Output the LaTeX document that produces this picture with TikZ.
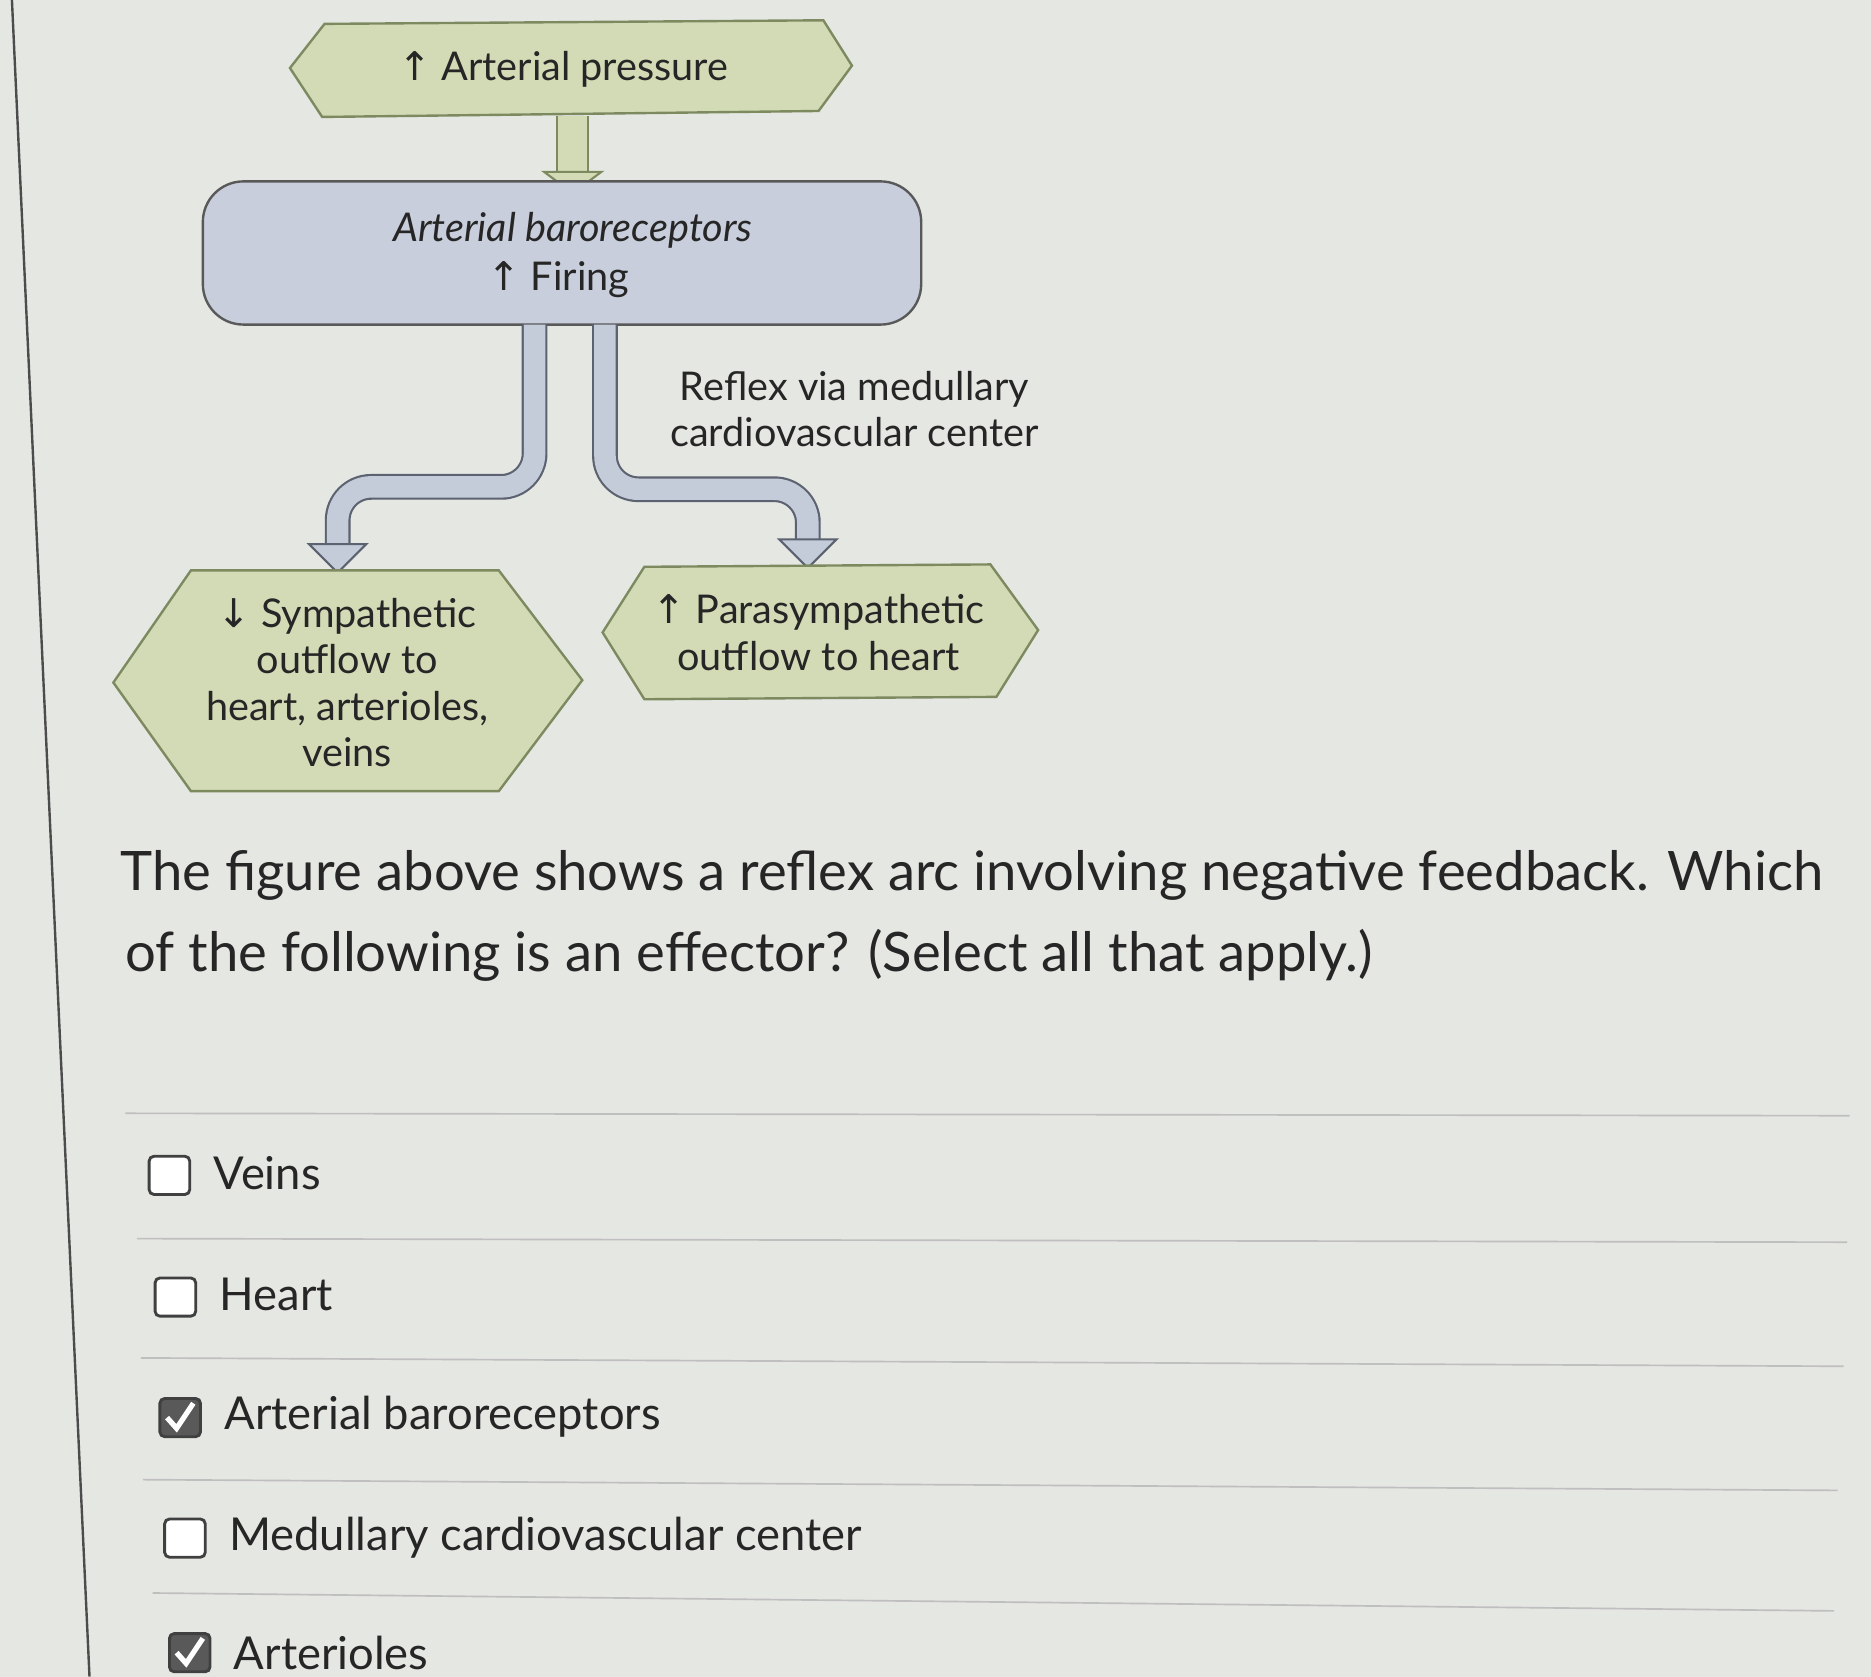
\documentclass[tikz,border=0pt]{standalone}
\usepackage{fontspec}
\setmainfont{Lato}
\newfontfamily\sym{DejaVu Sans}
\begin{document}
\begin{tikzpicture}[x=0.5pt,y=-0.5pt,
  hexg/.style={fill=hexfill,draw=hexline,line width=1pt},
  diag/.style={font=\fontsize{16.6}{19.5}\selectfont,text=black!85,align=center},
  opt/.style={font=\fontsize{19}{23}\selectfont,text=black!85,anchor=west},
  sep/.style={draw=black!25,line width=0.7pt},
  cbox/.style={draw=black!75,line width=1.2pt,rounded corners=2pt,fill=white},
  cboxon/.style={draw=black!75,line width=1.2pt,rounded corners=2pt,fill=black!65},
  pipe/.style={draw=pipeline,double=pipefill,double distance=9pt,line width=0.9pt,rounded corners=14pt},
  gpipe/.style={draw=hexline,double=hexfill,double distance=12pt,line width=0.9pt}]
\definecolor{bg}{HTML}{E5E7E3}
\definecolor{hexfill}{HTML}{D3DBB6}
\definecolor{hexline}{HTML}{7D8A60}
\definecolor{boxfill}{HTML}{C8CEDC}
\definecolor{pipefill}{HTML}{C5CCD9}
\definecolor{pipeline}{HTML}{5C6270}
\fill[bg] (0,0) rectangle (1568,1405);
\useasboundingbox (0,0) rectangle (1568,1405);
\draw[black!70,line width=1pt] (10,0) -- (75,1405);
% top arrow
\coordinate (ta1) at (480,97); \coordinate (ta2) at (480,144);
\draw[gpipe] (ta1) -- (ta2);
\filldraw[hexfill,draw=hexline,line width=0.9pt] (456,144) -- (504,144) -- (480,162) -- cycle;
% arterial pressure
\filldraw[hexg] (243,57) -- (272,20) -- (690,17) -- (714,55) -- (686,93) -- (270,98) -- cycle;
\node[diag] (ap) at (472,58) {{\sym ↑} Arterial pressure};
% baroreceptor box
\filldraw[fill=boxfill,draw=black!65,line width=1pt,rounded corners=17pt] (170,152) rectangle (772,272);
\node[diag] (ab) at (480,193) {\itshape Arterial baroreceptors};
\node[diag] (fi) at (468,234) {{\sym ↑} Firing};
% pipes
\coordinate (l0) at (448,272); \coordinate (l1) at (448,408); \coordinate (l2) at (283,408); \coordinate (l3) at (283,456);
\draw[pipe] (l0) -- (l1) -- (l2) -- (l3);
\filldraw[pipefill,draw=pipeline,line width=0.9pt] (259,456) -- (307,456) -- (283,480) -- cycle;
\coordinate (r0) at (507,272); \coordinate (r1) at (507,410); \coordinate (r2) at (677,410); \coordinate (r3) at (677,452);
\draw[pipe] (r0) -- (r1) -- (r2) -- (r3);
\filldraw[pipefill,draw=pipeline,line width=0.9pt] (653,452) -- (701,452) -- (677,476) -- cycle;
\fill[boxfill] (432,262) rectangle (523,271);
\node[diag] (rv) at (716,343) {Reflex via medullary\\cardiovascular center};
% hexagons
\filldraw[hexg] (95,572) -- (160,478) -- (418,478) -- (488,570) -- (418,663) -- (160,663) -- cycle;
\node[diag] (sy) at (291,572) {{\sym ↓} Sympathetic\\outflow to\\heart, arterioles,\\veins};
\filldraw[hexg] (505,530) -- (540,475) -- (830,473) -- (870,528) -- (835,584) -- (540,586) -- cycle;
\node[diag] (pa) at (686,530) {{\sym ↑} Parasympathetic\\outflow to heart};
% question
\node[anchor=west,font=\fontsize{22.8}{26}\selectfont,text=black!85] (q1) at (94,734) {The figure above shows a reflex arc involving negative feedback. Which};
\node[anchor=west,font=\fontsize{22.8}{26}\selectfont,text=black!85] (q2) at (98,801) {of the following is an effector? (Select all that apply.)};
% separators
\draw[sep] (105,933) -- (1550,935);
\draw[sep] (115,1038) -- (1548,1041);
\draw[sep] (118,1138) -- (1545,1145);
\draw[sep] (120,1240) -- (1540,1249);
\draw[sep] (128,1335) -- (1537,1350);
% options
\draw[cbox] (125,969) rectangle (159,1001);
\node[opt] (o1) at (172,983) {Veins};
\draw[cbox] (130,1071) rectangle (164,1103);
\node[opt] (o2) at (177,1085) {Heart};
\draw[cboxon] (134,1172) rectangle (168,1204);
\draw[white,line width=2.2pt] (140,1188) -- (148,1197) -- (162,1176);
\node[opt] (o3) at (181,1187) {Arterial baroreceptors};
\draw[cboxon] (142,1369) rectangle (176,1401);
\draw[cbox] (138,1273) rectangle (172,1305);
\node[opt] (o4) at (185,1289) {Medullary cardiovascular center};
\draw[white,line width=2.2pt] (148,1385) -- (156,1394) -- (170,1373);
\node[opt] (o5) at (189,1385) {Arterioles};
\end{tikzpicture}
\end{document}
